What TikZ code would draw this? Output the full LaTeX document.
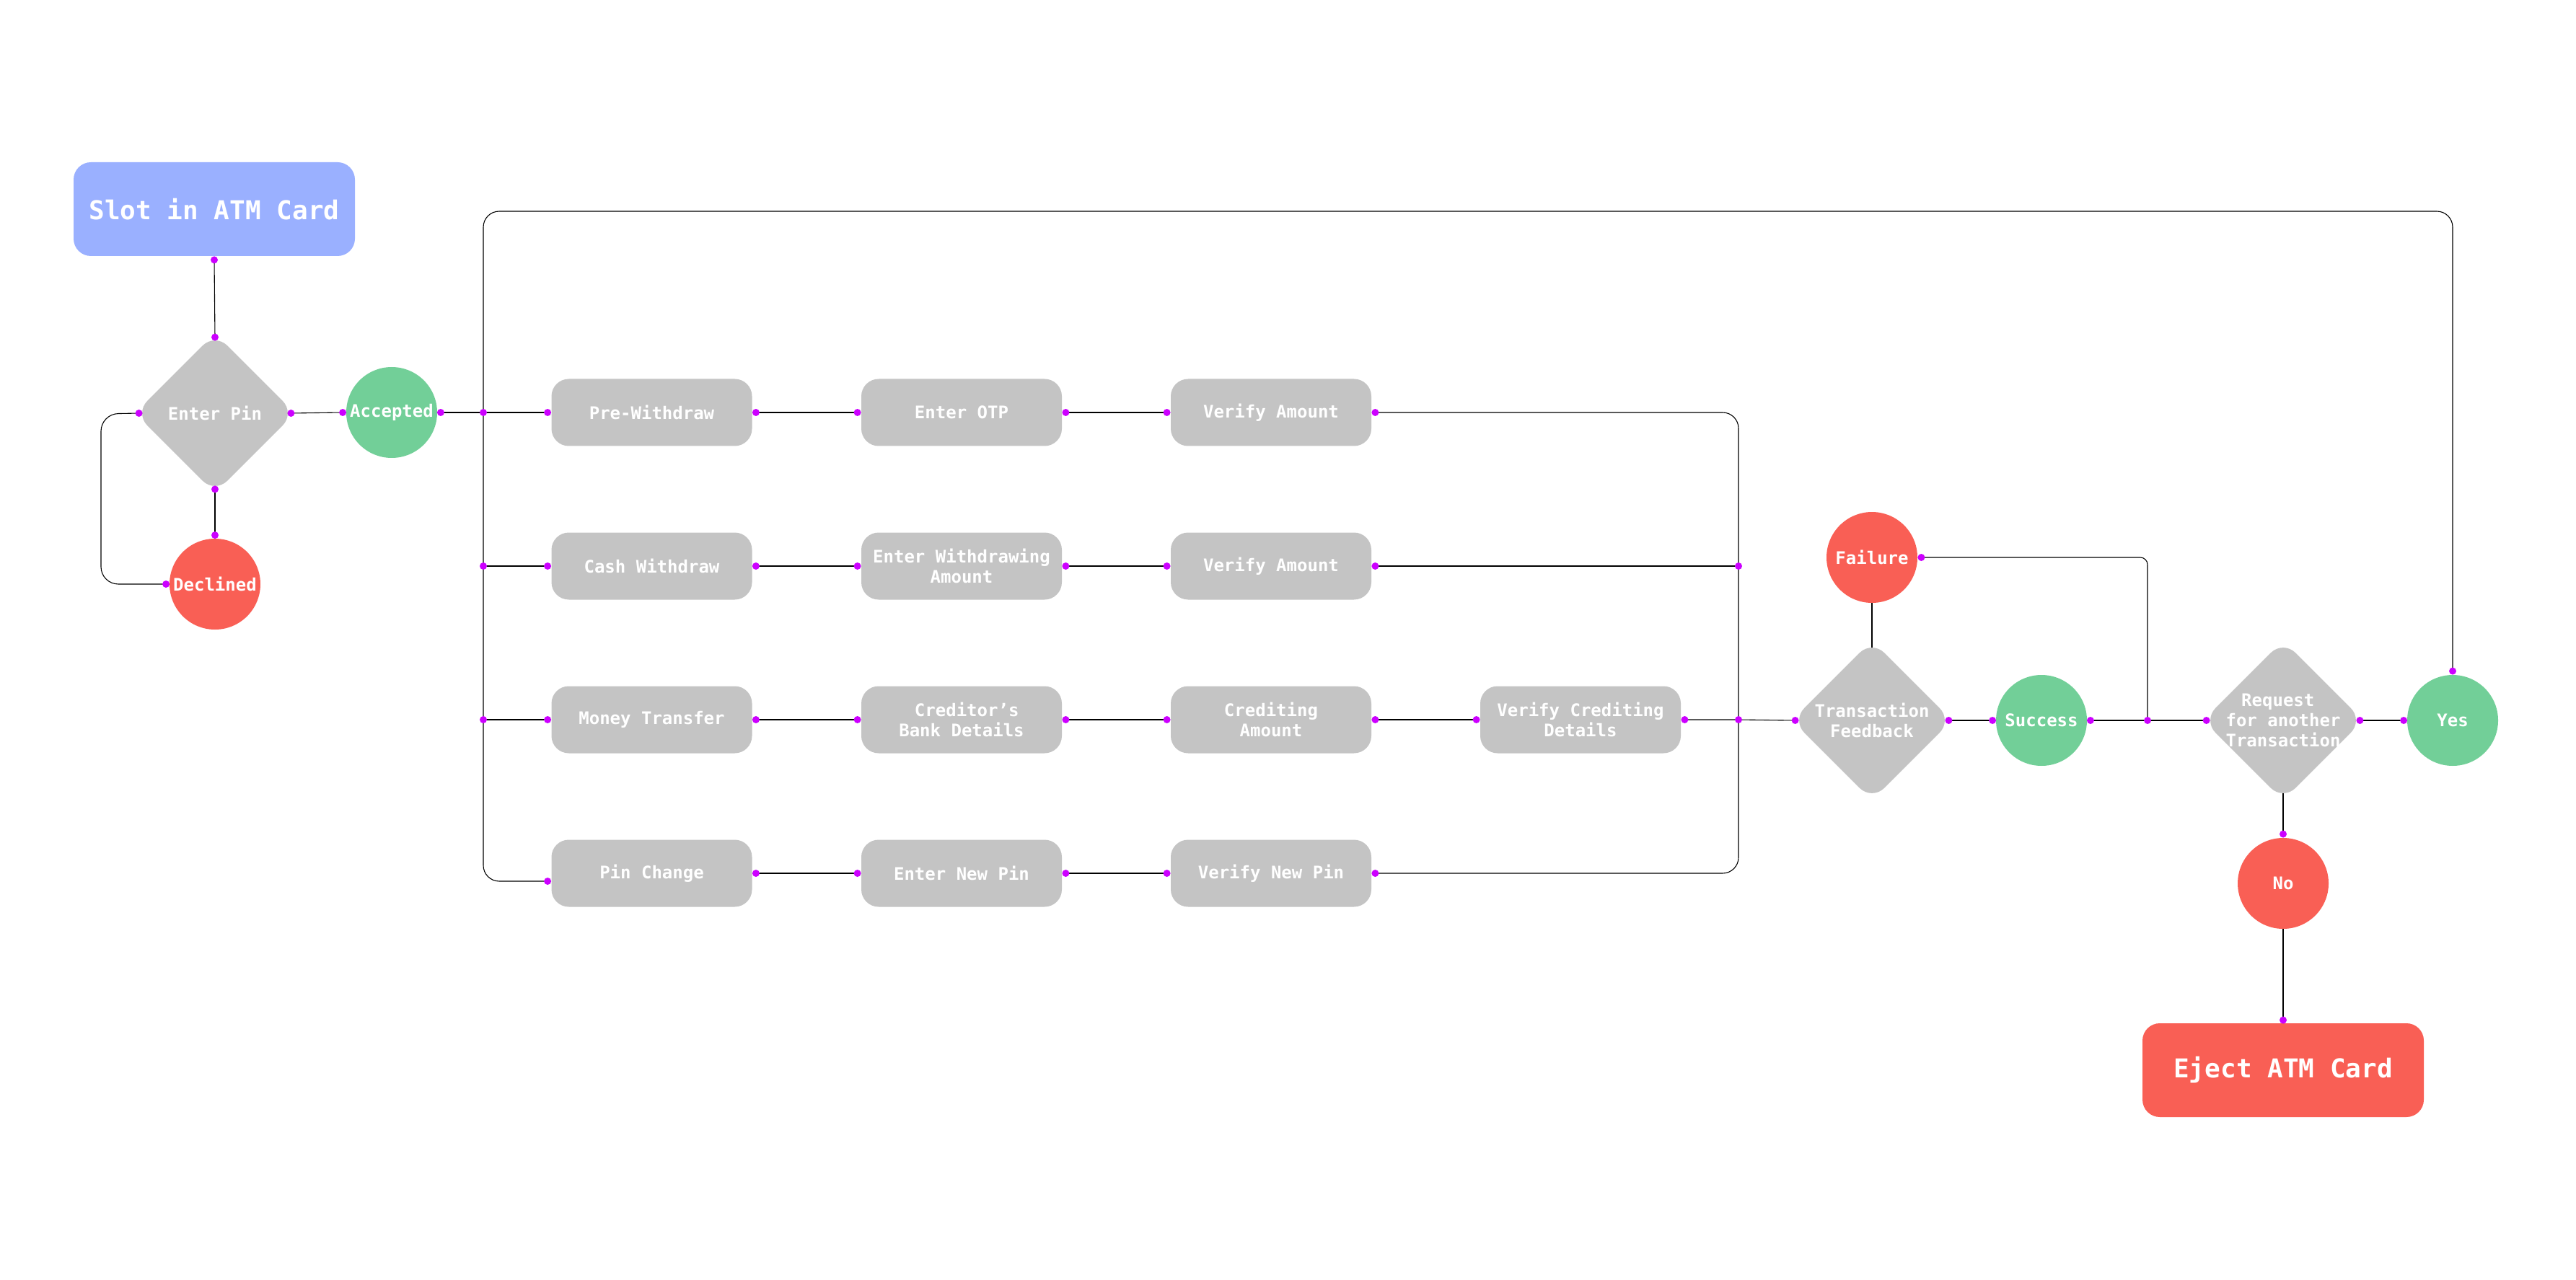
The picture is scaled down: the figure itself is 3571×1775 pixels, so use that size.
\documentclass[tikz,border=0pt]{standalone}
\usepackage{fontspec}
\setmonofont{DejaVu Sans Mono}
\usetikzlibrary{shapes.geometric,calc}
\definecolor{cblue}{RGB}{154,176,255}
\definecolor{cgray}{RGB}{196,196,196}
\definecolor{cgreen}{RGB}{114,207,152}
\definecolor{cred}{RGB}{249,95,85}
\definecolor{cdot}{RGB}{204,0,255}
\tikzset{
  txt/.style={text=white, font=\ttfamily\bfseries\fontsize{12}{14}\selectfont, align=center, inner sep=0pt},
  bigbox/.style={rounded corners=12pt, minimum width=195pt, minimum height=65pt, inner sep=0pt, font=\ttfamily\bfseries\fontsize{18}{21}\selectfont, text=white},
  gbox/.style={txt, fill=cgray, rounded corners=12pt, minimum width=139pt, minimum height=46.5pt},
  circ/.style={txt, circle, minimum size=63pt},
  dia/.style={diamond, fill=cgray, rounded corners=12pt, minimum width=111pt, minimum height=111pt, inner sep=0pt, aspect=1},
  conn/.style={line width=0.55pt, black},
  pdot/.style={fill=cdot}
}
\begin{document}
\begin{tikzpicture}[x=0.5pt,y=-0.5pt]
\fill[white] (0,0) rectangle (3571,1775);
\useasboundingbox (0,0) rectangle (3571,1775);

% nodes
\node[bigbox, fill=cblue] (slot) at (297,290) {Slot in ATM Card};
\node[dia] (pin) at (298,573) {};
\node[txt] (pinT) at (pin.center) {Enter Pin};
\node[circ, fill=cgreen] (acc) at (543,572) {Accepted};
\node[circ, fill=cred] (dec) at (298,810) {Declined};

\node[gbox] (a1) at (903.5,572) {Pre-Withdraw};
\node[gbox] (a2) at (1333,572) {Enter OTP};
\node[gbox] (a3) at (1762,572) {Verify Amount};
\node[gbox] (b1) at (903.5,785) {Cash Withdraw};
\node[gbox] (b2) at (1333,785) {Enter Withdrawing\\Amount};
\node[gbox] (b3) at (1762,785) {Verify Amount};
\node[gbox] (c1) at (903.5,998) {Money Transfer};
\node[gbox] (c2) at (1333,998) {\hphantom{x}Creditor’s\\Bank Details};
\node[gbox] (c3) at (1762,998) {Crediting\\Amount};
\node[gbox] (c4) at (2191,998) {Verify Crediting\\Details};
\node[gbox] (d1) at (903.5,1211) {Pin Change};
\node[gbox] (d2) at (1333,1211) {Enter New Pin};
\node[gbox] (d3) at (1762,1211) {Verify New Pin};

\node[circ, fill=cred] (fail) at (2595,773) {Failure};
\node[dia] (tf) at (2595,999) {};
\node[txt] (tfT) at (tf.center) {Transaction\\Feedback};
\node[circ, fill=cgreen] (suc) at (2830,999) {Success};
\node[dia] (rat) at (3165,999) {};
\node[txt] (ratT) at (rat.center) {Request\hphantom{x}\\for another\\Transaction};
\node[circ, fill=cgreen] (yes) at (3400,999) {Yes};
\node[circ, fill=cred] (no) at (3165,1225) {No};
\node[bigbox, fill=cred] (ej) at (3165,1484) {Eject ATM Card};

% connection points
\coordinate (slotS) at ([yshift=-2.5pt]slot.south);
\coordinate (pinN) at ([yshift=-3pt]pin.north);
\coordinate (pinS) at ([yshift=3pt]pin.south);
\coordinate (pinW) at ([xshift=3pt]pin.west);
\coordinate (pinE) at ([xshift=-3pt]pin.east);
\coordinate (accW) at ([xshift=-2.25pt]acc.west);
\coordinate (accE) at ([xshift=2.25pt]acc.east);
\coordinate (decN) at ([yshift=2.25pt]dec.north);
\coordinate (decW) at ([xshift=-2.25pt]dec.west);
\coordinate (lp) at (140,574);
\coordinate (top) at (670,293);
\coordinate (j1) at (670,572);
\coordinate (j2) at (670,785);
\coordinate (j3) at (670,998);
\foreach \n in {a1,a2,a3,b1,b2,b3,c1,c2,c3,c4,d2,d3}{
  \coordinate (\n W) at ([xshift=-2.5pt]\n.west);
  \coordinate (\n E) at ([xshift=2.5pt]\n.east);
}
\coordinate (d1W) at ([xshift=-2.5pt,yshift=-5.5pt]d1.west);
\coordinate (d1E) at ([xshift=2.5pt]d1.east);
\coordinate (k2) at (2410,785);
\coordinate (k3) at (2410,998);
\coordinate (tfW) at ([xshift=2.5pt]tf.west);
\coordinate (tfE) at ([xshift=-2.5pt]tf.east);
\coordinate (tfN) at ([yshift=-5pt]tf.north);
\coordinate (sucW) at ([xshift=-2.25pt]suc.west);
\coordinate (sucE) at ([xshift=2.25pt]suc.east);
\coordinate (m) at (2977,999);
\coordinate (ratW) at ([xshift=2.5pt]rat.west);
\coordinate (ratE) at ([xshift=-2.5pt]rat.east);
\coordinate (ratS) at ([yshift=5pt]rat.south);
\coordinate (yesW) at ([xshift=-2.25pt]yes.west);
\coordinate (yesN) at ([yshift=2.5pt]yes.north);
\coordinate (failE) at ([xshift=2.5pt]fail.east);
\coordinate (noN) at ([yshift=2.5pt]no.north);
\coordinate (ejN) at ([yshift=2pt]ej.north);

% connectors
\draw[conn] (slotS) -- (pinN);
\draw[conn] (pinS) -- (decN);
\draw[conn, rounded corners=12pt] (decW) -- (lp |- decW) -- (lp) -- (pinW);
\draw[conn] (pinE) -- (accW);
\draw[conn] (accE) -- (j1) -- (a1W);
\draw[conn, rounded corners=11pt] (yesN) -- (yesN |- top) -- (top) -- (top |- d1W) -- (d1W);
\draw[conn] (j2) -- (b1W);
\draw[conn] (j3) -- (c1W);
\draw[conn] (a1E) -- (a2W) (a2E) -- (a3W);
\draw[conn] (b1E) -- (b2W) (b2E) -- (b3W);
\draw[conn] (c1E) -- (c2W) (c2E) -- (c3W) (c3E) -- (c4W);
\draw[conn] (d1E) -- (d2W) (d2E) -- (d3W);
\draw[conn, rounded corners=11pt] (a3E) -- (a3E -| k3) -- (k3 |- d3E) -- (d3E);
\draw[conn] (b3E) -- (k2);
\draw[conn] (c4E) -- (k3) -- (tfW);
\draw[conn] (fail.south) -- (tfN);
\draw[conn] (tfE) -- (sucW);
\draw[conn] (sucE) -- (m) -- (ratW);
\draw[conn, rounded corners=5pt] (failE) -- (failE -| m) -- (m);
\draw[conn] (ratE) -- (yesW);
\draw[conn] (ratS) -- (noN);
\draw[conn] (no.south) -- (ejN);

% dots
\foreach \c in {slotS,pinN,pinS,pinW,pinE,accW,accE,decN,decW,j1,j2,j3,
  a1W,a1E,a2W,a2E,a3W,a3E,b1W,b1E,b2W,b2E,b3W,b3E,
  c1W,c1E,c2W,c2E,c3W,c3E,c4W,c4E,d1W,d1E,d2W,d2E,d3W,d3E,
  k2,k3,tfW,tfE,sucW,sucE,m,ratW,ratE,yesW,yesN,failE,noN,ejN}
  \fill[pdot] (\c) circle (2.5pt);
\end{tikzpicture}
\end{document}
